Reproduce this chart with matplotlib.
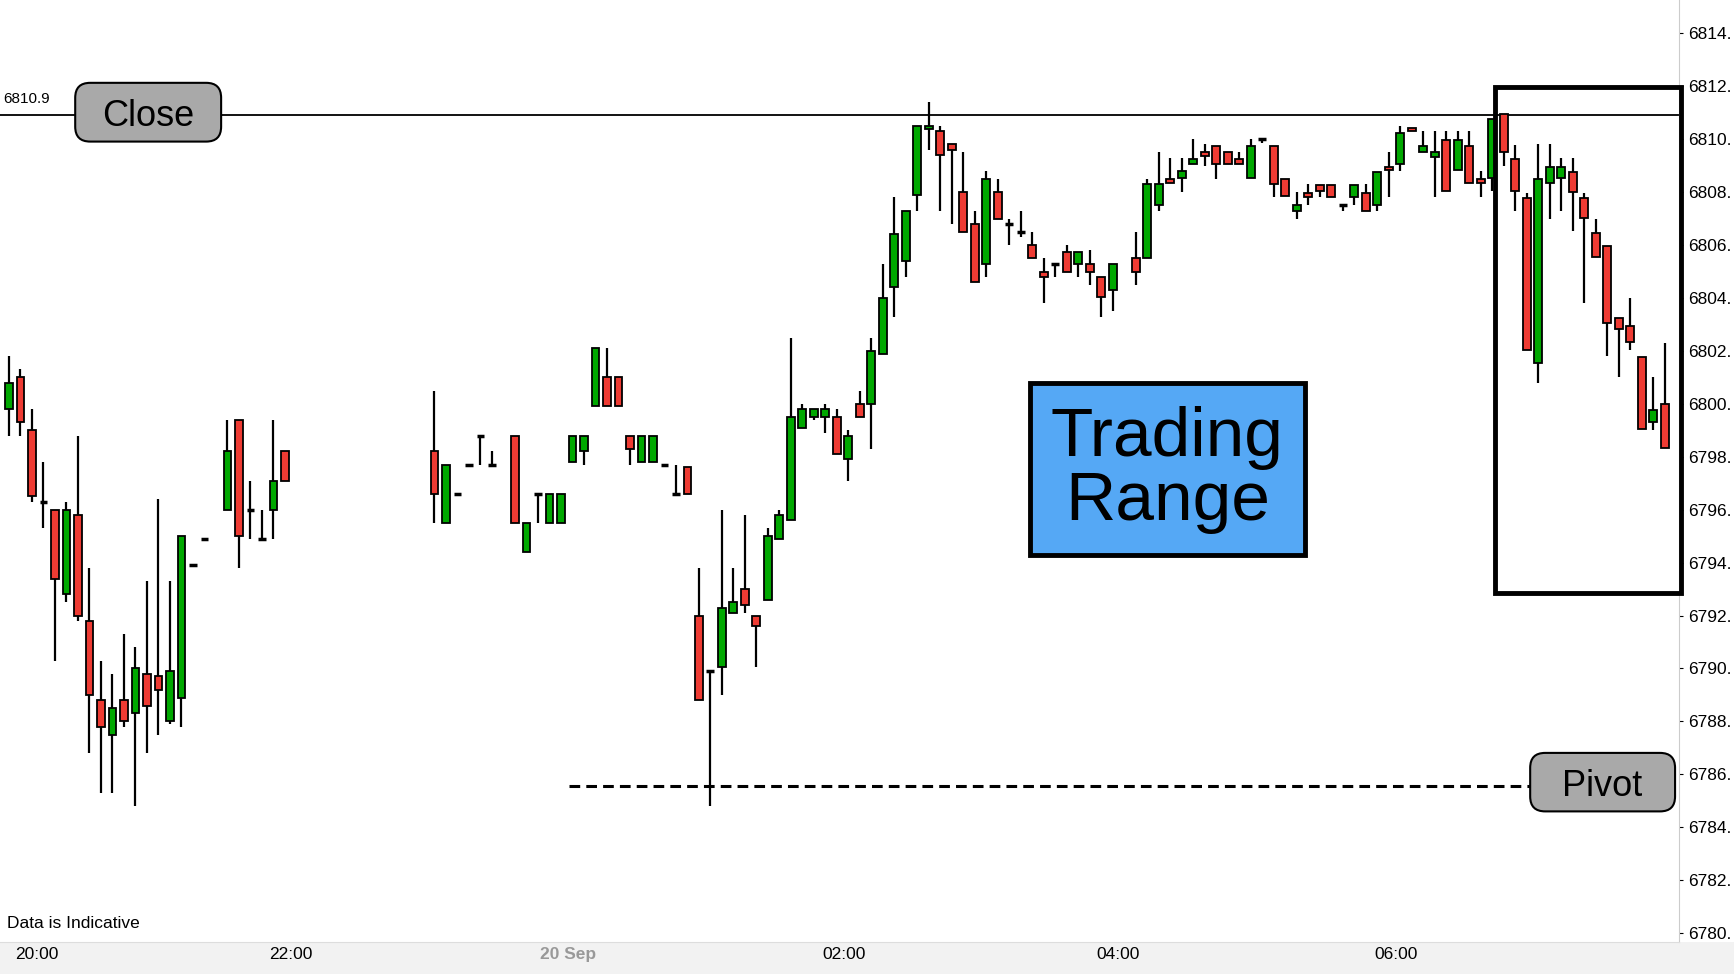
import numpy as np
import matplotlib
matplotlib.use("Agg")
import matplotlib.pyplot as plt
from matplotlib.patches import Rectangle, FancyBboxPatch

plt.rcParams['font.family'] = ['Liberation Sans', 'DejaVu Sans']

# 5-minute candles, slot index 0 = 20:00 bar; None = no bar in that slot
N = None
opens = [6799.8, 6801.0, 6799.0, 6796.3, 6796.0, 6792.8, 6795.8, 6791.8, 6788.8, 6787.5,
         6788.8, 6788.3, 6789.8, 6789.7, 6788.0, 6788.9, 6793.9, 6794.9, N, 6796.0,
         6799.4, 6796.0, 6794.9, 6796.0, 6798.2, N, N, N, N, N,
         N, N, N, N, N, N, N, 6798.2, 6795.5, 6796.6,
         6797.7, 6798.8, 6797.7, N, 6798.8, 6794.4, 6796.6, 6795.5, 6795.5, 6797.8,
         6798.2, 6799.9, 6801.0, 6801.0, 6798.8, 6797.8, 6797.8, 6797.7, 6796.6, 6797.6,
         6792.0, 6789.9, 6790.05, 6792.1, 6793.0, 6792.0, 6792.6, 6794.9, 6795.6, 6799.1,
         6799.5, 6799.5, 6799.5, 6797.9, 6800.0, 6800.0, 6801.9, 6804.4, 6805.4, 6807.9,
         6810.4, 6810.3, 6809.8, 6808.0, 6806.8, 6805.3, 6808.0, 6806.8, 6806.5, 6806.0,
         6805.0, 6805.3, 6805.75, 6805.3, 6805.3, 6804.8, 6804.3, N, 6805.5, 6805.5,
         6807.5, 6808.5, 6808.55, 6809.05, 6809.5, 6809.75, 6809.5, 6809.25, 6808.55, 6810.0,
         6809.75, 6808.5, 6807.3, 6807.95, 6808.27, 6808.27, 6807.5, 6807.83, 6807.98, 6807.5,
         6808.96, 6809.05, 6810.44, 6809.53, 6809.34, 6809.97, 6808.84, 6809.75, 6808.48, 6808.55,
         6810.95, 6809.25, 6807.79, 6801.53, 6808.36, 6808.55, 6808.77, 6807.79, 6806.47, 6805.98,
         6803.26, 6802.95, 6801.78, 6799.33, 6799.99]
highs = [6801.8, 6801.3, 6799.8, 6797.8, 6796.0, 6796.3, 6798.8, 6793.8, 6790.3, 6789.8,
         6791.3, 6790.8, 6793.3, 6796.4, 6793.3, 6795.0, 6793.9, 6794.9, N, 6799.4,
         6799.4, 6797.1, 6796.0, 6799.4, 6798.2, N, N, N, N, N,
         N, N, N, N, N, N, N, 6800.5, 6797.7, 6796.6,
         6797.7, 6798.8, 6798.2, N, 6798.8, 6795.5, 6796.6, 6796.6, 6796.6, 6798.8,
         6798.8, 6802.1, 6802.1, 6801.0, 6798.8, 6798.8, 6798.8, 6797.7, 6797.7, 6797.6,
         6793.8, 6789.9, 6796.0, 6793.8, 6795.8, 6792.0, 6795.3, 6796.0, 6802.5, 6800.0,
         6799.8, 6800.0, 6799.8, 6799.0, 6800.5, 6802.5, 6805.3, 6807.8, 6807.3, 6810.5,
         6811.4, 6810.5, 6809.8, 6809.5, 6807.3, 6808.8, 6808.5, 6807.0, 6807.3, 6806.5,
         6805.5, 6805.3, 6806.0, 6805.75, 6805.8, 6804.8, 6805.3, N, 6806.5, 6808.5,
         6809.5, 6809.3, 6809.3, 6810.0, 6809.8, 6809.75, 6809.5, 6809.5, 6810.0, 6810.0,
         6809.75, 6808.5, 6808.0, 6808.3, 6808.27, 6808.27, 6807.5, 6808.27, 6808.3, 6808.77,
         6809.5, 6810.5, 6810.44, 6810.3, 6810.3, 6810.3, 6810.3, 6810.3, 6808.8, 6810.75,
         6810.95, 6809.78, 6807.98, 6809.8, 6809.8, 6809.28, 6809.28, 6807.98, 6807.0, 6805.98,
         6803.26, 6803.99, 6801.78, 6801.0, 6802.29]
lows = [6798.8, 6798.8, 6796.3, 6795.3, 6790.3, 6792.5, 6791.8, 6786.8, 6785.3, 6785.3,
        6787.8, 6784.8, 6786.8, 6787.5, 6787.9, 6787.8, 6793.9, 6794.9, N, 6796.0,
        6793.8, 6794.9, 6794.9, 6794.9, 6797.1, N, N, N, N, N,
        N, N, N, N, N, N, N, 6795.5, 6795.5, 6796.6,
        6797.7, 6797.7, 6797.7, N, 6795.5, 6794.4, 6795.5, 6795.5, 6795.5, 6797.8,
        6797.7, 6799.9, 6799.9, 6799.9, 6797.7, 6797.8, 6797.8, 6797.7, 6796.6, 6796.6,
        6788.8, 6784.8, 6789.0, 6792.1, 6792.1, 6790.05, 6792.6, 6794.9, 6795.6, 6799.1,
        6799.4, 6798.9, 6798.1, 6797.1, 6799.5, 6798.3, 6801.9, 6803.3, 6804.8, 6807.3,
        6809.6, 6807.3, 6806.8, 6806.5, 6804.6, 6804.8, 6807.0, 6806.0, 6806.3, 6805.5,
        6803.8, 6804.8, 6805.0, 6804.8, 6804.5, 6803.3, 6803.5, N, 6804.5, 6805.5,
        6807.3, 6808.35, 6808.0, 6809.05, 6809.0, 6808.5, 6809.05, 6809.05, 6808.55, 6809.85,
        6807.8, 6807.85, 6807.0, 6807.5, 6807.83, 6807.83, 6807.3, 6807.5, 6807.3, 6807.3,
        6807.83, 6808.8, 6810.32, 6809.53, 6807.83, 6808.05, 6808.84, 6808.36, 6807.83, 6808.05,
        6809.0, 6807.3, 6802.03, 6800.8, 6807.0, 6807.3, 6806.53, 6803.8, 6805.54, 6801.81,
        6801.03, 6802.03, 6799.04, 6799.0, 6798.34]
closes = [6800.8, 6799.3, 6796.5, 6796.3, 6793.4, 6796.0, 6792.0, 6789.0, 6787.8, 6788.5,
          6788.0, 6790.0, 6788.6, 6789.2, 6789.9, 6795.0, 6793.9, 6794.9, N, 6798.2,
          6795.0, 6796.0, 6794.9, 6797.1, 6797.1, N, N, N, N, N,
          N, N, N, N, N, N, N, 6796.6, 6797.7, 6796.6,
          6797.7, 6798.8, 6797.7, N, 6795.5, 6795.5, 6796.6, 6796.6, 6796.6, 6798.8,
          6798.8, 6802.1, 6799.9, 6799.9, 6798.3, 6798.8, 6798.8, 6797.7, 6796.6, 6796.6,
          6788.8, 6789.9, 6792.3, 6792.5, 6792.4, 6791.6, 6795.0, 6795.8, 6799.5, 6799.8,
          6799.8, 6799.8, 6798.1, 6798.8, 6799.5, 6802.0, 6804.0, 6806.4, 6807.3, 6810.5,
          6810.5, 6809.4, 6809.6, 6806.5, 6804.6, 6808.5, 6807.0, 6806.8, 6806.5, 6805.5,
          6804.8, 6805.3, 6805.0, 6805.75, 6805.0, 6804.05, 6805.3, N, 6805.0, 6808.3,
          6808.3, 6808.35, 6808.8, 6809.25, 6809.35, 6809.05, 6809.05, 6809.05, 6809.75, 6810.0,
          6808.3, 6807.85, 6807.5, 6807.83, 6808.05, 6807.83, 6807.5, 6808.27, 6807.3, 6808.77,
          6808.84, 6810.25, 6810.32, 6809.75, 6809.5, 6808.05, 6809.97, 6808.36, 6808.36, 6810.75,
          6809.53, 6808.05, 6802.03, 6808.48, 6808.96, 6808.96, 6808.02, 6807.04, 6805.54, 6803.04,
          6802.81, 6802.32, 6799.04, 6799.77, 6798.34]

close_level = 6810.9
pivot_level = 6785.56
y_ticks = list(range(6780, 6815, 2))
x_tick_pos = [0.55, 24.5, 48.6, 72.6, 96.5, 120.6]
x_tick_labels = ["20:00", "22:00", "20 Sep", "02:00", "04:00", "06:00"]

GREEN = "#00a800"
RED = "#ee3b33"

fig = plt.figure(figsize=(17.34, 9.74), dpi=100)
fig.patch.set_facecolor("white")
# grey strip under the plot for the time labels
strip = fig.add_axes([0, 0, 1, 0.033], zorder=-1)
strip.set_facecolor("#f2f2f2")
strip.set_xticks([]); strip.set_yticks([])
for s in strip.spines.values():
    s.set_visible(False)

ax = fig.add_axes([0, 0.033, 0.968, 0.967])
ax.set_facecolor("white")

w = 0.66
for k in range(len(opens)):
    o, h, l, c = opens[k], highs[k], lows[k], closes[k]
    if o is None:
        continue
    ax.vlines(k, l, h, color="black", lw=1.6, zorder=2)
    if abs(c - o) < 0.03:
        ax.hlines(o, k - w / 2, k + w / 2, color="black", lw=2.5, zorder=3)
    else:
        col = GREEN if c > o else RED
        ax.bar(k, abs(c - o), bottom=min(o, c), width=w, color=col,
               edgecolor="black", linewidth=1.3, zorder=3)

ax.set_xlim(-0.77, 145.2)
ax.set_ylim(6779.67, 6815.26)


def label_box(x0, x1, y0, y1, text):
    ax.add_patch(FancyBboxPatch((x0, y0), x1 - x0, y1 - y0,
                                boxstyle="round,pad=0,rounding_size=1.3",
                                mutation_aspect=0.434, fc="#a9a9a9", ec="black",
                                lw=1.5, zorder=6))
    ax.text((x0 + x1) / 2, (y0 + y1) / 2, text, fontsize=26, ha="center",
            va="center_baseline", zorder=7)


# close line and label
ax.axhline(close_level, color="black", lw=1.3, zorder=1)
ax.text(0.002, close_level + 0.35, "6810.9", transform=ax.get_yaxis_transform(),
        fontsize=11, ha="left", va="bottom")
label_box(5.77, 18.46, 6809.91, 6812.13, "Close")

# pivot
ax.hlines(pivot_level, 48.75, 132.3, color="black", lw=2.2, linestyles=(0, (3.5, 2)), zorder=1)
label_box(132.3, 144.9, 6784.6, 6786.81, "Pivot")

# trading range box
ax.add_patch(Rectangle((88.8, 6794.3), 23.9, 6.5, facecolor="#55a8f5", edgecolor="black",
                       lw=3.5, zorder=5))
ax.text(100.75, 6797.5, "Trading\nRange", fontsize=50, ha="center", va="center",
        linespacing=1.0, zorder=6)

# highlight box on the right
ax.add_patch(Rectangle((129.2, 6792.87), 16.2, 19.1, facecolor="none", edgecolor="black",
                       lw=3.5, zorder=6, clip_on=False))

ax.text(0.004, 0.012, "Data is Indicative", transform=ax.transAxes, fontsize=12.5,
        ha="left", va="bottom")

ax.yaxis.tick_right()
ax.set_yticks(y_ticks)
ax.set_yticklabels([f"{v}." for v in y_ticks], fontsize=12.5)
ax.tick_params(axis="y", length=3, pad=4)
ax.set_xticks(x_tick_pos)
ax.set_xticklabels(x_tick_labels, fontsize=12.5)
ax.tick_params(axis="x", length=0, pad=4)
labs = ax.get_xticklabels()
labs[0].set_horizontalalignment("left")
labs[0].set_x(-0.77)
for lab in labs:
    if lab.get_text() == "20 Sep":
        lab.set_color("#999999")
        lab.set_fontweight("bold")
for s in ["top", "left"]:
    ax.spines[s].set_visible(False)
ax.spines["right"].set_color("#cccccc")
ax.spines["bottom"].set_color("#dddddd")

fig.savefig("out.png", dpi=100)
